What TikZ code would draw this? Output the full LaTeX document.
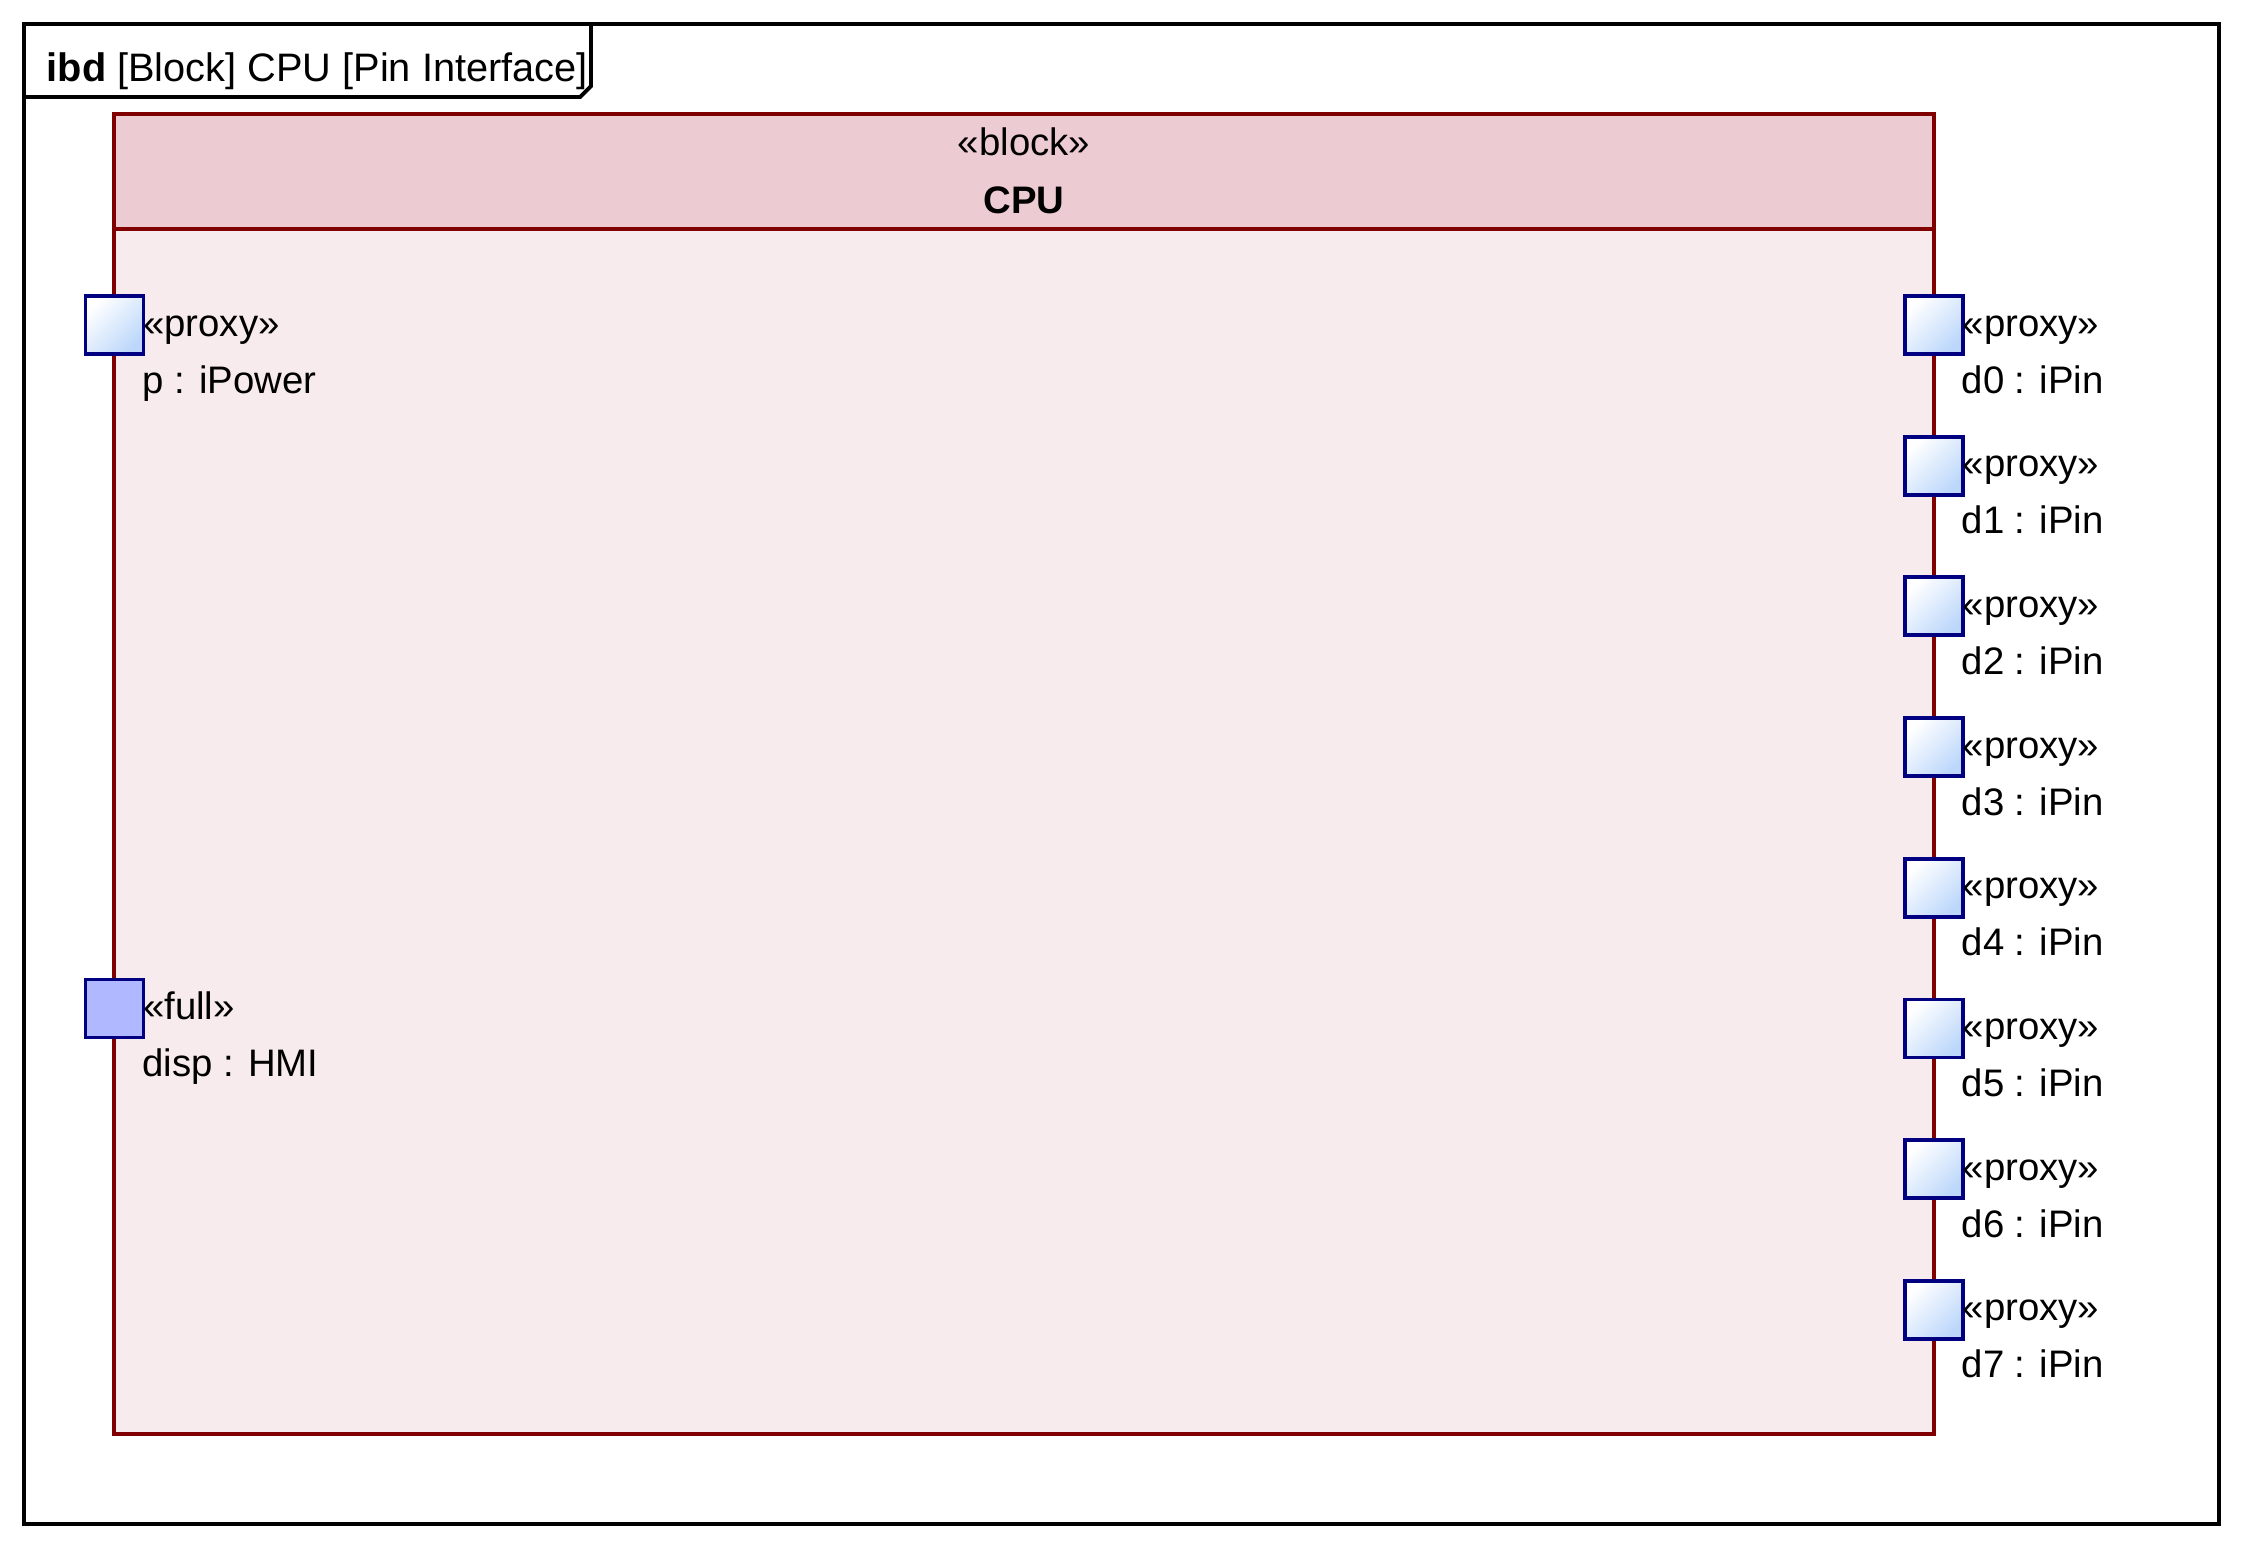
\documentclass[tikz,border=0pt]{standalone}
\usepackage{fontspec}
\setmainfont{Liberation Sans}
\usetikzlibrary{positioning}
\definecolor{hdrpink}{HTML}{EDCBD2}
\definecolor{bodypink}{HTML}{F7EBED}
\definecolor{blkred}{HTML}{800000}
\definecolor{portnavy}{HTML}{000080}
\definecolor{portblue}{HTML}{BCD7FB}
\definecolor{fullblue}{HTML}{B0B8FF}
\begin{document}
\begin{tikzpicture}[x=0.01cm,y=-0.01cm,
    font=\fontsize{10.9}{13}\selectfont,
    proxyport/.style={draw=portnavy,line width=1.1pt,minimum size=0.58cm,inner sep=0pt,
      top color=white,bottom color=portblue,shading angle=45},
    fullport/.style={draw=portnavy,line width=1.1pt,minimum size=0.58cm,inner sep=0pt,
      fill=fullblue},
    portlbl/.style={anchor=base west,inner sep=0pt}]
  \useasboundingbox (0,0) rectangle (2243,1548);
  \def\Port[#1,#2,#3,#4,#5,#6]{%
    \node[#1] (#2) at (#3,#4) {};
    \node[portlbl] (#2st) at (#3+28,#4+11) {«#5»};
    \node[portlbl] (#2nm) at (#3+27,#4+68) {#6};
  }
  % frame
  \draw[line width=1.1pt] (24,24) rectangle (2219,1524);
  \draw[line width=1.1pt] (24,97) -- (580,97) -- (591,86) -- (591,24);
  \node[portlbl,font=\fontsize{11.3}{13}\selectfont] (title) at (46,81)
    {\textbf{ibd} [Block] CPU [Pin Interface]};
  % block
  \fill[bodypink] (114,229) rectangle (1934,1434);
  \fill[hdrpink] (114,114) rectangle (1934,229);
  \draw[blkred,line width=1.1pt] (114,114) rectangle (1934,1434)
    (114,229) -- (1934,229);
  \node[anchor=base,inner sep=0pt] (stereo) at (1024,155) {«block»};
  \node[anchor=base,inner sep=0pt] (cpu) at (1024,213) {\bfseries CPU};
  % ports
  \Port[proxyport,p,114.5,325,proxy,p : iPower]
  \Port[fullport,disp,114.5,1008.5,full,disp : HMI]
  \foreach \i in {0,...,7}{
    \Port[proxyport,d\i,1934,325+140.7*\i,proxy,d\i\ : iPin]
  }
\end{tikzpicture}
\end{document}
